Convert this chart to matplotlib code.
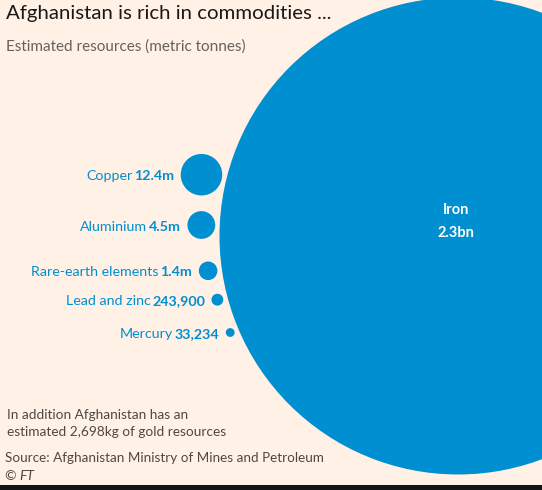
import numpy as np
import matplotlib
matplotlib.use("Agg")
import matplotlib.pyplot as plt
from matplotlib.patches import Circle, Rectangle

# ---- data ----
names = ["Copper", "Aluminium", "Rare-earth elements", "Lead and zinc", "Mercury"]
values = [12.4e6, 4.5e6, 1.4e6, 243900, 33234]
value_labels = ["12.4m", "4.5m", "1.4m", "243,900", "33,234"]
big_name = "Iron"
big_value = 2.3e9
big_label = "2.3bn"

title = "Afghanistan is rich in commodities ..."
subtitle = "Estimated resources (metric tonnes)"
note = "In addition Afghanistan has an\nestimated 2,698kg of gold resources"
source = "Source: Afghanistan Ministry of Mines and Petroleum"

# ---- style / layout ----
W, H = 542, 490
BG = "#fff1e5"
BLUE = "#008fd0"
FONT = "Lato"
plt.rcParams['font.family'] = [FONT, 'DejaVu Sans']

def radius(v):
    # radius scale (pixels): offset + sqrt scale
    return 3.5 + 0.0049 * np.sqrt(v)

big_cx, big_cy = 458, 236
row_y = [174.7, 225, 270.8, 299.7, 332.5]
gap = 4.5

fig = plt.figure(figsize=(W / 100, H / 100), dpi=100, facecolor=BG)
ax = fig.add_axes([0, 0, 1, 1])
ax.set_xlim(0, W)
ax.set_ylim(H, 0)
ax.set_aspect('equal')
ax.axis('off')
ax.set_facecolor(BG)

R = radius(big_value)
ax.add_patch(Circle((big_cx, big_cy), R, color=BLUE, lw=0))
ax.text(big_cx - 2, 210, big_name, color="white", fontsize=10.5, fontweight="bold",
        ha="center", va="center")
ax.text(big_cx - 2, 233, big_label, color="white", fontsize=10.5, fontweight="bold",
        ha="center", va="center")

fig.canvas.draw()
renderer = fig.canvas.get_renderer()
for n, v, lab, y in zip(names, values, value_labels, row_y):
    r = radius(v)
    dy = y - big_cy
    cx = big_cx - np.sqrt((R + gap + r) ** 2 - dy ** 2)
    ax.add_patch(Circle((cx, y), r, color=BLUE, lw=0))
    xr = cx - r - 6.5
    t = ax.text(xr, y + 1.5, lab, color=BLUE, fontsize=10.3, fontweight="bold",
                ha="right", va="center")
    bb = t.get_window_extent(renderer)
    wpx = bb.width * 100 / fig.dpi
    ax.text(xr - wpx - 1.5, y + 1.5, n, color=BLUE, fontsize=10.3,
            ha="right", va="center")

ax.text(6, 13, title, color="#1a1817", fontsize=14.7, ha="left", va="center")
ax.text(6, 47, subtitle, color="#66605c", fontsize=11, ha="left", va="center")
ax.text(7, 423.5, note, color="#4d4845", fontsize=9.8, ha="left", va="center",
        linespacing=1.5)
ax.text(5, 457.5, source, color="#4d4845", fontsize=9.7, ha="left", va="center")
ax.text(4, 476, "©", color="#4d4845", fontsize=10, ha="left", va="center")
ax.text(19, 476, "FT", color="#4d4845", fontsize=10, ha="left", va="center",
        style="italic")

ax.add_patch(Rectangle((0, 485), W, 5, color="#141414", lw=0, zorder=5))

fig.savefig("out.png", dpi=100, facecolor=BG)
